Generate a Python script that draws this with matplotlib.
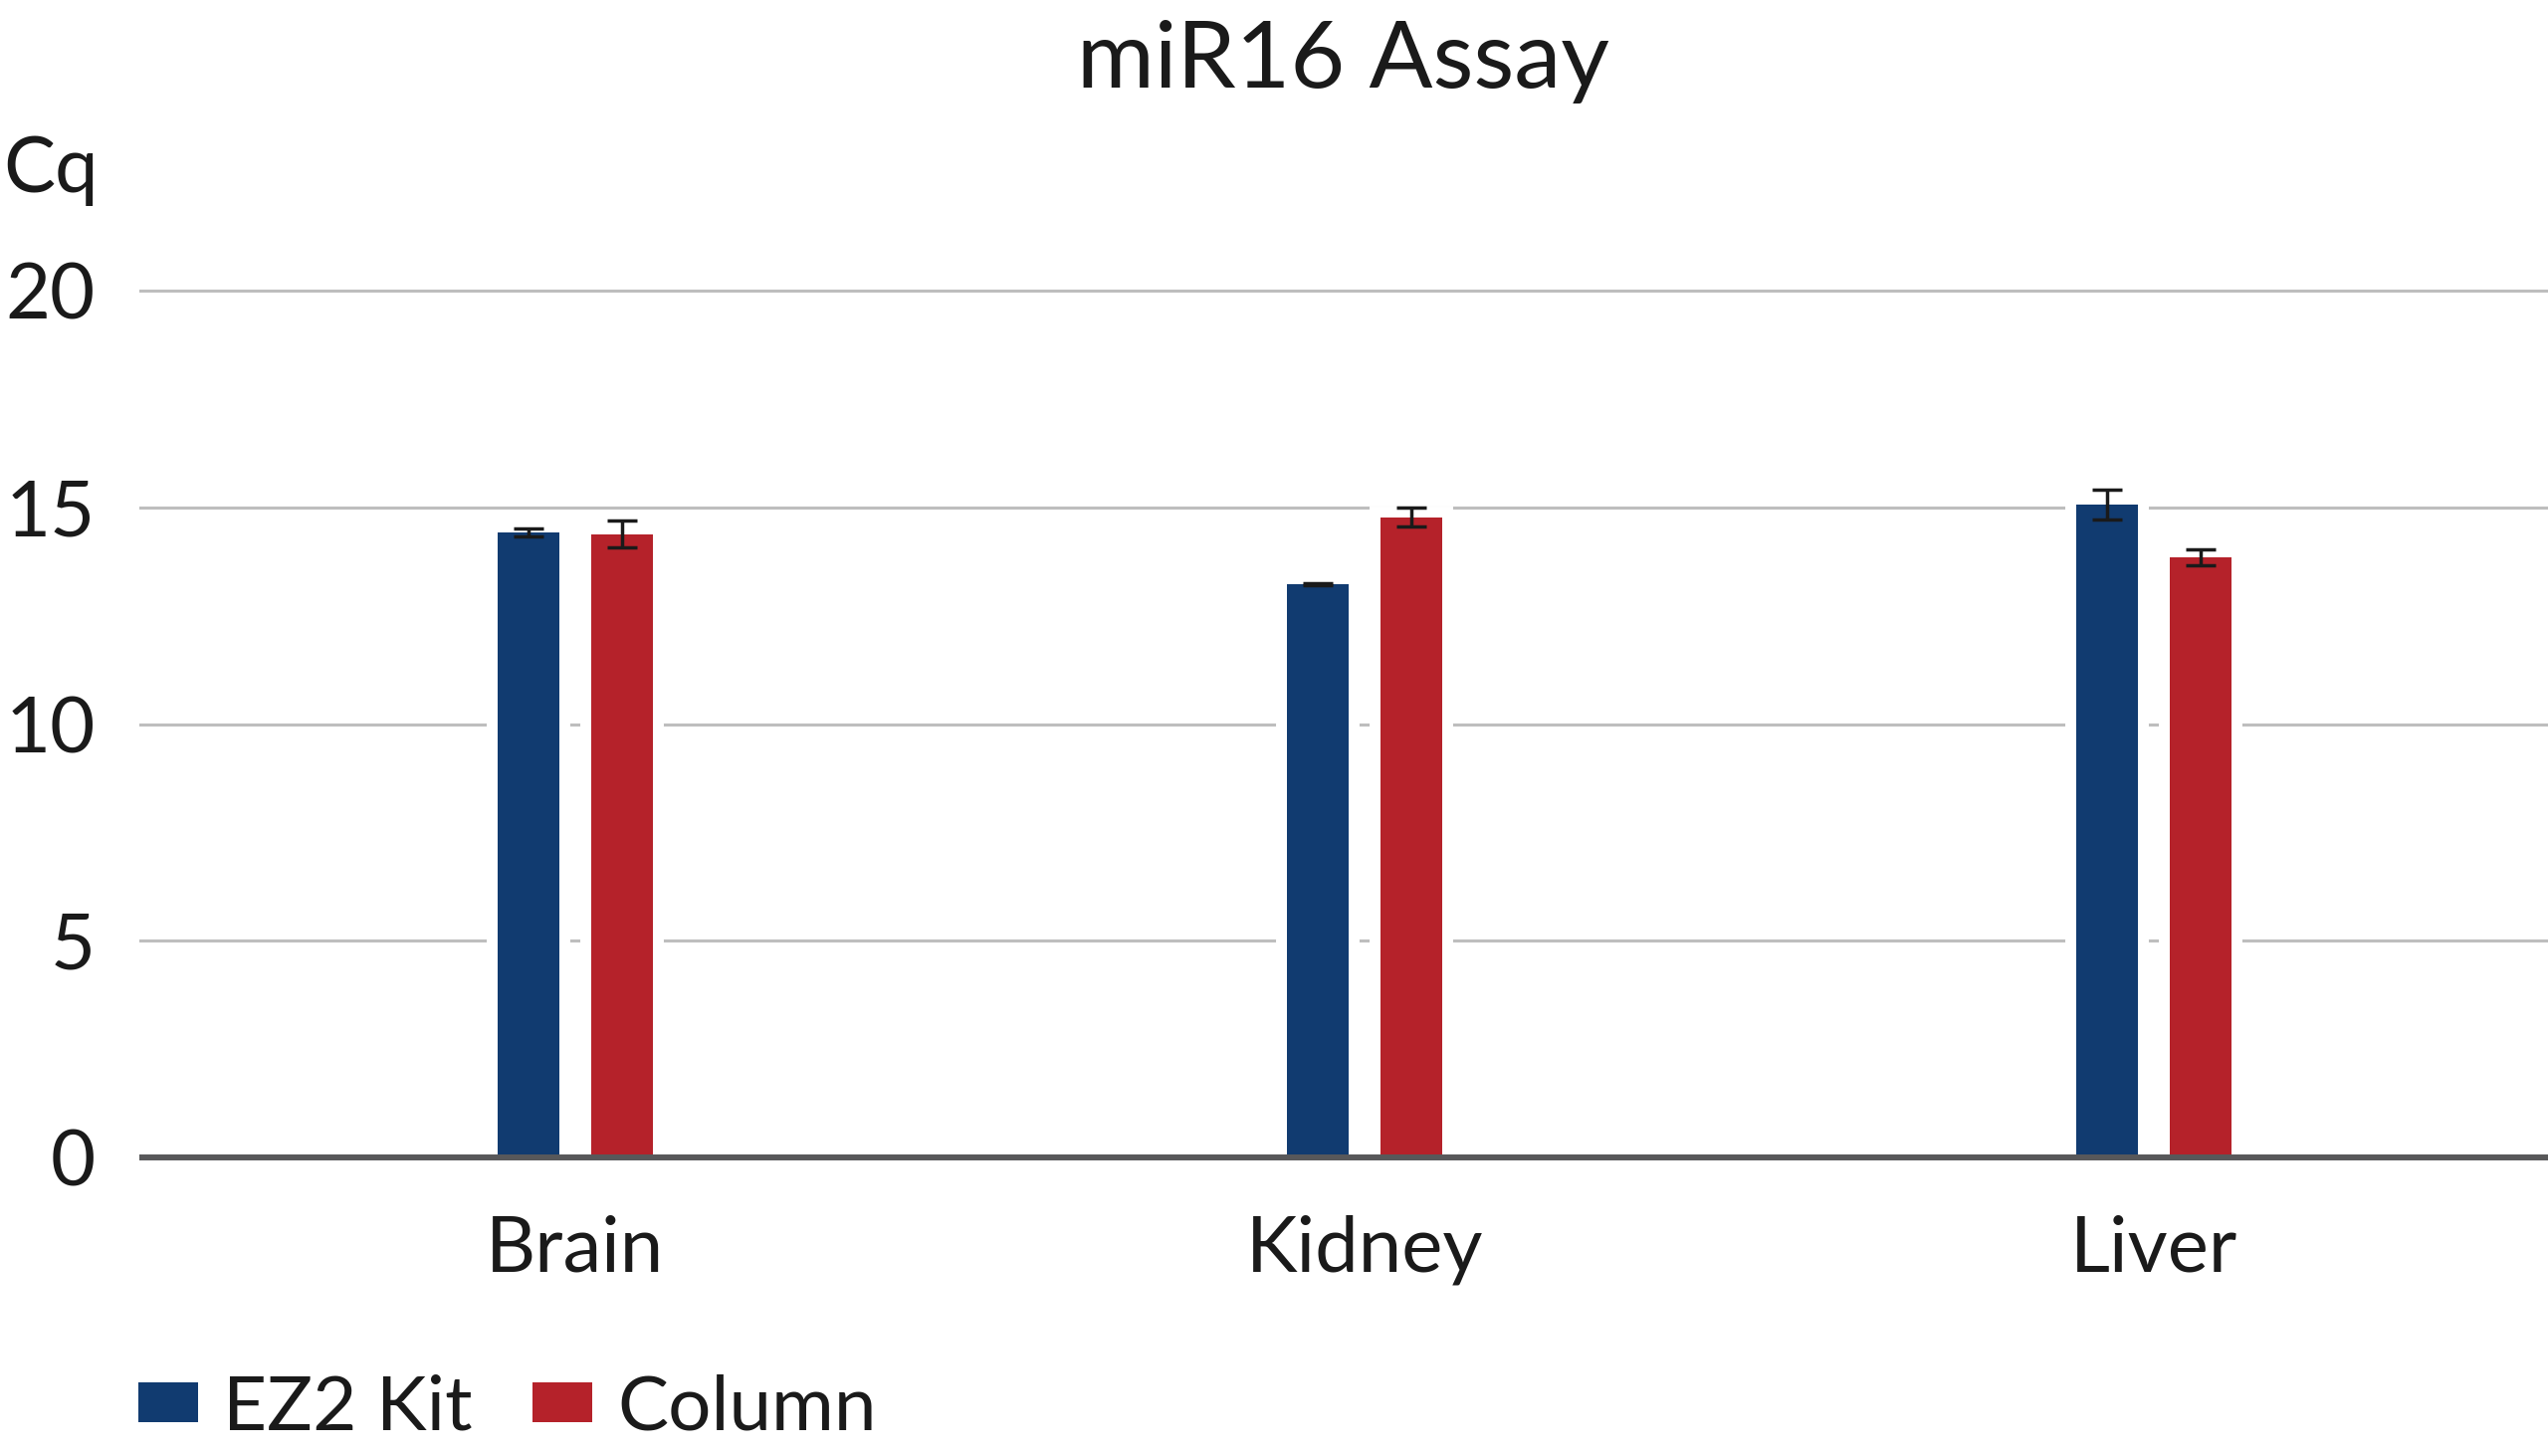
import numpy as np
import matplotlib.pyplot as plt
from matplotlib import patheffects as pe

plt.rcParams['font.family'] = ['Lato', 'DejaVu Sans']

tissues = ['Brain', 'Kidney', 'Liver']
ez2_cq = [14.41, 13.22, 15.06]
ez2_err = [0.09, 0.02, 0.35]
col_cq = [14.38, 14.77, 13.84]
col_err = [0.31, 0.22, 0.18]
yticks = [0, 5, 10, 15, 20]

blue = '#113b70'
red = '#b5222a'

W, H = 2560, 1463
fig = plt.figure(figsize=(W/100, H/100), dpi=100)

# axes placed in pixels: y=0 at 1163 from top, 43.58 px per unit
ppu = 43.58
y0 = 1163.3
ylo, yhi = -0.3, 21
bot_px = y0 + (-ylo)*ppu
ax = fig.add_axes([140/W, (H-bot_px)/H, (W-140)/W, (yhi-ylo)*ppu/H])

x = np.arange(len(tissues))
bw = 0.078
off = 0.059
stroke = [pe.withStroke(linewidth=15.8, foreground='white')]

ax.bar(x-off, ez2_cq, bw, color=blue, label='EZ2 Kit', zorder=2, path_effects=stroke)
ax.bar(x+off, col_cq, bw, color=red, label='Column', zorder=2, path_effects=stroke)
ax.errorbar(x-off, ez2_cq, yerr=ez2_err, fmt='none', ecolor='#1a1a1a',
            elinewidth=2.5, capsize=11, capthick=2.5, zorder=4)
ax.errorbar(x+off, col_cq, yerr=col_err, fmt='none', ecolor='#1a1a1a',
            elinewidth=2.5, capsize=11, capthick=2.5, zorder=4)
ax.axhline(0, color='#58585a', lw=4.3, zorder=3)

ax.set_xlim(-0.552, 2.499)
ax.set_ylim(ylo, yhi)
ax.set_yticks(yticks)
ax.set_yticklabels([str(t) for t in yticks])
ax.set_xticks(x)
ax.set_xticklabels(tissues)
ax.tick_params(axis='y', length=0, pad=32, labelsize=56, labelcolor='#1a1a1a')
ax.tick_params(axis='x', length=0, pad=32, labelsize=56, labelcolor='#1a1a1a')
ax.set_axisbelow(True)
ax.yaxis.grid(True, color='#bebebe', lw=2.2)
gl = ax.get_ygridlines()
gl[0].set_visible(False)
for s in ax.spines.values():
    s.set_visible(False)

fig.text(1349/W, (H-88)/H, 'miR16 Assay', ha='center', va='baseline',
         fontsize=68, color='#1a1a1a')
fig.text(3/W, (H-193)/H, 'Cq', ha='left', va='baseline', fontsize=56, color='#1a1a1a')

fig.legend(loc='center left', bbox_to_anchor=(139/W, 48/H), ncol=2, frameon=False,
           fontsize=55, handlelength=0.78, handleheight=0.43, handletextpad=0.33,
           columnspacing=0.8, borderpad=0, borderaxespad=0, labelcolor='#1a1a1a')

fig.savefig('out.png', dpi=100)
